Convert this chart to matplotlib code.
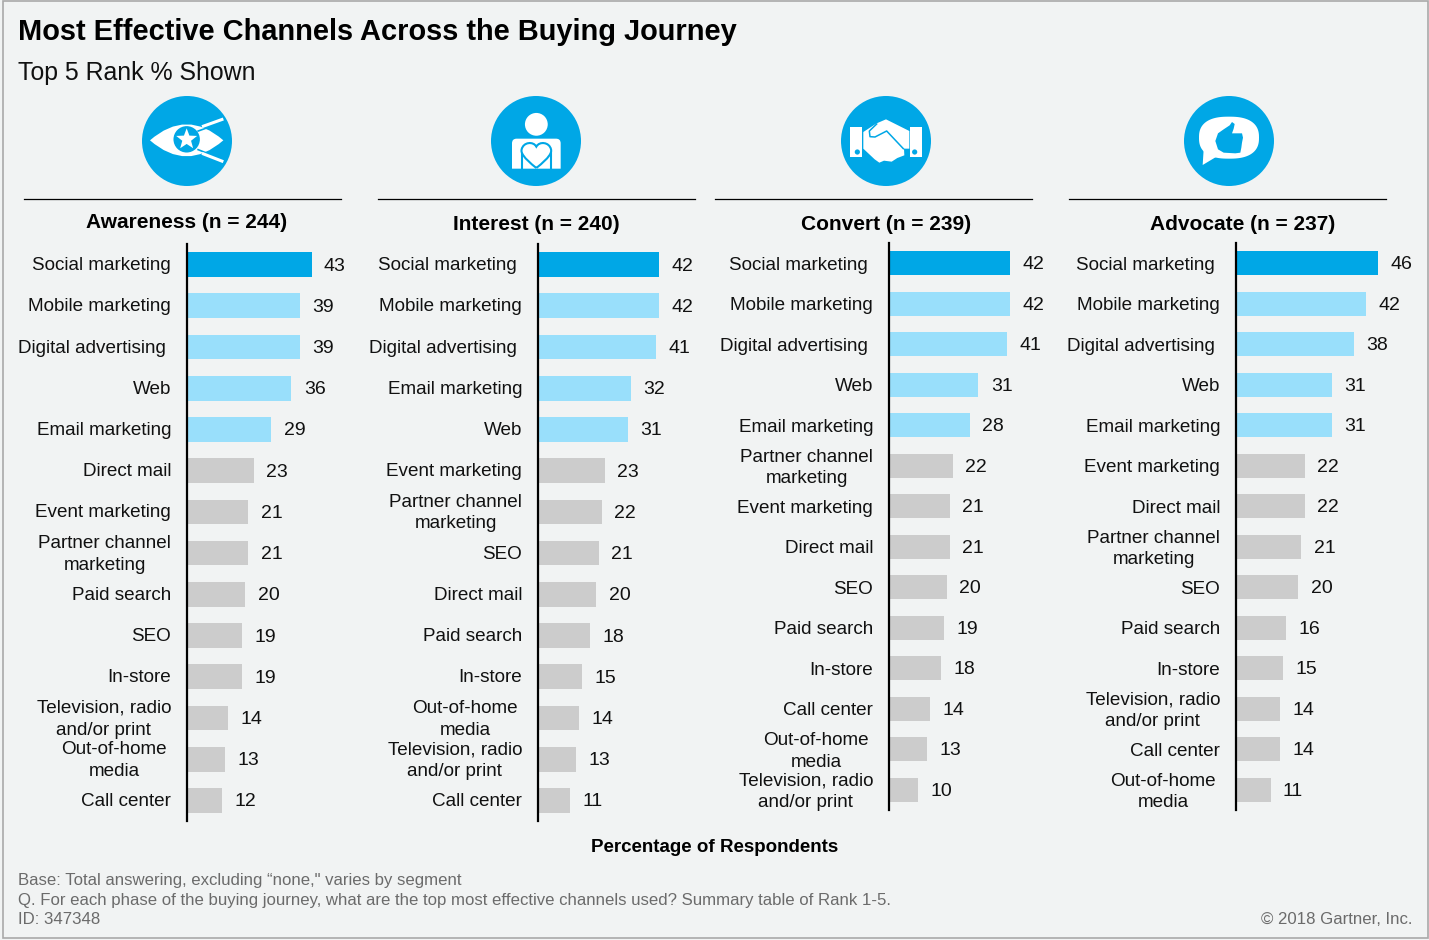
import matplotlib
matplotlib.use("Agg")
import matplotlib.pyplot as plt
from matplotlib.patches import Circle, Polygon, PathPatch, Rectangle
from matplotlib.path import Path
from matplotlib.transforms import ScaledTranslation
import numpy as np

plt.rcParams['font.family'] = ['Liberation Sans', 'DejaVu Sans']

PC = "Partner channel\nmarketing"
TV = "Television, radio\nand/or print"
OOH = "Out-of-home\nmedia"

awareness_labels = ["Social marketing", "Mobile marketing", "Digital advertising", "Web", "Email marketing",
                    "Direct mail", "Event marketing", PC, "Paid search", "SEO", "In-store", TV, OOH, "Call center"]
awareness_values = [43, 39, 39, 36, 29, 23, 21, 21, 20, 19, 19, 14, 13, 12]

interest_labels = ["Social marketing", "Mobile marketing", "Digital advertising", "Email marketing", "Web",
                   "Event marketing", PC, "SEO", "Direct mail", "Paid search", "In-store", OOH, TV, "Call center"]
interest_values = [42, 42, 41, 32, 31, 23, 22, 21, 20, 18, 15, 14, 13, 11]

convert_labels = ["Social marketing", "Mobile marketing", "Digital advertising", "Web", "Email marketing",
                  PC, "Event marketing", "Direct mail", "SEO", "Paid search", "In-store", "Call center", OOH, TV]
convert_values = [42, 42, 41, 31, 28, 22, 21, 21, 20, 19, 18, 14, 13, 10]

advocate_labels = ["Social marketing", "Mobile marketing", "Digital advertising", "Web", "Email marketing",
                   "Event marketing", "Direct mail", PC, "SEO", "Paid search", "In-store", TV, "Call center", OOH]
advocate_values = [46, 42, 38, 31, 31, 22, 22, 21, 20, 16, 15, 14, 14, 11]

titles = ["Awareness (n = 244)", "Interest (n = 240)", "Convert (n = 239)", "Advocate (n = 237)"]

W, H = 1429, 940
BG = "#F1F3F3"; BLUE = "#00A7E6"; LIGHT = "#99DFFB"; GRAY = "#CCCCCC"

fig = plt.figure(figsize=(W / 100, H / 100), dpi=100, facecolor=BG)

# overlay in pixel coordinates for decoration
ov = fig.add_axes([0, 0, 1, 1], zorder=5)
ov.set_xlim(0, W); ov.set_ylim(H, 0); ov.axis("off"); ov.patch.set_alpha(0)

ov.add_patch(Rectangle((3, 0.5), W - 4, 937, fill=False, ec="#A9A9A9", lw=1.2))

panels = [
    (awareness_labels, awareness_values, 187, 244, 821, 2.88, 187, 221, (24.5, 341.5), 1, 2),
    (interest_labels, interest_values, 538, 244, 821, 2.87, 536, 223, (378.5, 695.5), 1, 2),
    (convert_labels, convert_values, 889, 243, 810, 2.86, 886, 222, (715.5, 1032.5), 0, 2),
    (advocate_labels, advocate_values, 1236, 243, 810, 3.08, 1243, 223, (1069.5, 1386.5), 0, 2),
]

for idx, ((labels, values, x0, top, bot, scale, tx, ty, rule, up1, up2), title) in enumerate(zip(panels, titles)):
    width_px = 190
    ax = fig.add_axes([x0 / W, 1 - bot / H, width_px / W, (bot - top) / H])
    ax.patch.set_alpha(0)
    y = np.arange(len(values))
    colors = [BLUE] + [LIGHT] * 4 + [GRAY] * (len(values) - 5)
    bars = ax.barh(y, values, height=0.6, color=colors, left=0.75 / scale)
    ax.set_xlim(0, width_px / scale)
    ax.set_ylim(len(values) - 0.5, -0.5)
    ax.set_yticks(y, labels, fontsize=13.6, color="#111111", multialignment="center", linespacing=1.35)
    ax.tick_params(axis="y", length=0, pad=11.5)
    ax.set_xticks([])
    for s in ("top", "right", "bottom"):
        ax.spines[s].set_visible(False)
    ax.spines["left"].set_linewidth(1.6)
    for lab in ax.get_yticklabels():
        txt = lab.get_text()
        dx, dy = 0, up1
        if "\n" in txt:
            dy = up1 + up2 if idx < 2 else up2
        if txt == OOH:
            dx = -4
        if txt == "Digital advertising" or (txt == "Social marketing" and idx > 0):
            dx = -5
        lab.set_transform(lab.get_transform() + ScaledTranslation(dx / 100, dy / 100, fig.dpi_scale_trans))
    texts = ax.bar_label(bars, labels=[str(v) for v in values], padding=8.9, fontsize=14, color="#111111")
    for t in texts:
        t.xyann = (t.xyann[0], -1.1)
    ov.plot(rule, [199, 199], color="black", lw=0.9)
    ov.text(tx, ty + 2, title, ha="center", va="center", fontsize=15, fontweight="bold", color="black")

def zp(pts, ox, oy):
    return [(ox + a / 3, oy + b / 3) for a, b in pts]

for cx in (187, 536, 886, 1229):
    ov.add_patch(Circle((cx, 141), 45, fc=BLUE, ec="none"))

def star(cx, cy, r):
    a = np.pi / 2 + np.arange(10) * np.pi / 5
    rr = np.where(np.arange(10) % 2 == 0, r, r * 0.42)
    return np.c_[cx + rr * np.cos(a), cy - rr * np.sin(a)]

# eye
EX, EY = 140, 96
ov.add_patch(PathPatch(Path(zp([(30, 133), (140, 37), (250, 133), (140, 229), (30, 133)], EX, EY),
                            [Path.MOVETO, Path.CURVE3, Path.CURVE3, Path.CURVE3, Path.CURVE3]), fc="white", ec="none"))
ov.add_patch(Circle((EX + 140 / 3, EY + 130 / 3), 13.2, fc=BLUE, ec="none"))
ov.add_patch(Polygon(star(EX + 140 / 3, EY + 130 / 3, 11), fc="white", ec="none"))
ov.plot(*zip(*zp([(172, 106), (222, 88)], EX, EY)), color=BLUE, lw=1.2, solid_capstyle="butt")
ov.plot(*zip(*zp([(172, 160), (222, 180)], EX, EY)), color=BLUE, lw=1.2, solid_capstyle="butt")
ov.plot(*zip(*zp([(186, 92), (250, 69)], EX, EY)), color="white", lw=2.2, solid_capstyle="butt")
ov.plot(*zip(*zp([(186, 172), (250, 197)], EX, EY)), color="white", lw=2.2, solid_capstyle="butt")

# person with heart
PX, PY = 490, 96
ov.add_patch(Circle((PX + 139 / 3, PY + 85 / 3), 11.4, fc="white", ec="none"))
body = zp([(66, 218), (66, 142), (66, 128), (80, 128), (198, 128), (212, 128), (212, 142), (212, 218), (66, 218)], PX, PY)
ov.add_patch(PathPatch(Path(body, [Path.MOVETO, Path.LINETO, Path.CURVE3, Path.CURVE3, Path.LINETO, Path.CURVE3, Path.CURVE3,
                                   Path.LINETO, Path.CLOSEPOLY]), fc="white", ec="none"))
ov.plot(*zip(*zp([(95, 168), (95, 218)], PX, PY)), color=BLUE, lw=1.5, solid_capstyle="butt")
ov.plot(*zip(*zp([(183, 168), (183, 218)], PX, PY)), color=BLUE, lw=1.5, solid_capstyle="butt")
heart = zp([(139, 216), (100, 185), (92, 170), (95, 160), (100, 138), (130, 135), (139, 152),
            (148, 135), (178, 138), (183, 160), (186, 170), (178, 185), (139, 216)], PX, PY)
ov.add_patch(PathPatch(Path(heart, [Path.MOVETO] + [Path.CURVE4] * 12), fc="white", ec=BLUE, lw=1.5, zorder=3))

# handshake
HX, HY = 840, 96
ov.add_patch(Polygon(zp([(30, 93), (66, 93), (66, 182), (30, 182)], HX, HY), fc="white", ec="none"))
ov.add_patch(Polygon(zp([(210, 93), (246, 93), (246, 182), (210, 182)], HX, HY), fc="white", ec="none"))
ov.add_patch(Circle((HX + 52 / 3, HY + 168 / 3), 2.6, fc=BLUE, ec="none"))
ov.add_patch(Circle((HX + 224 / 3, HY + 168 / 3), 2.6, fc=BLUE, ec="none"))
ov.add_patch(Polygon(zp([(70, 158), (70, 108), (110, 82), (138, 70), (208, 105), (208, 158), (192, 158), (193, 178),
                         (172, 186), (155, 197), (132, 194), (118, 200), (104, 190)], HX, HY), fc="white", ec="none"))
ov.plot(*zip(*zp([(110, 84), (88, 105), (90, 122), (105, 123), (140, 105), (190, 158)], HX, HY)), color=BLUE, lw=1.1)

# thumbs-up speech bubble
TX, TY = 1182, 96
t = np.linspace(0, 2 * np.pi, 120)
bx = 141 + 90 * np.sign(np.cos(t)) * np.abs(np.cos(t)) ** (2 / 2.5)
by = 125 + 63 * np.sign(np.sin(t)) * np.abs(np.sin(t)) ** (2 / 2.5)
ov.add_patch(Polygon(zp(list(zip(bx, by)), TX, TY), fc="white", ec="none"))
ov.add_patch(Polygon(zp([(65, 160), (62, 207), (102, 183)], TX, TY), fc="white", ec="none"))
ov.add_patch(Polygon(zp([(100, 135), (108, 112), (125, 100), (143, 88), (150, 78), (158, 84), (155, 98), (150, 112),
                         (180, 112), (183, 125), (180, 140), (178, 155), (175, 170), (160, 172), (125, 170), (108, 160)],
                        TX, TY), fc=BLUE, ec="none"))

# ---- text ----
ov.text(18, 32, "Most Effective Channels Across the Buying Journey", fontsize=20.93, fontweight="bold", va="center", color="black")
ov.text(18, 73, "Top 5 Rank % Shown", fontsize=17.9, va="center", color="#111111")
ov.text(715, 848, "Percentage of Respondents", fontsize=13.5, fontweight="bold", ha="center", va="center", color="black")
ov.text(18, 881, "Base: Total answering, excluding \u201cnone,\" varies by segment", fontsize=12.08, va="center", color="#6B6B6B")
ov.text(18, 901, "Q. For each phase of the buying journey, what are the top most effective channels used? Summary table of Rank 1-5.",
        fontsize=12.08, va="center", color="#6B6B6B")
ov.text(18, 920, "ID: 347348", fontsize=12.08, va="center", color="#6B6B6B")
ov.text(1413, 920, "\u00a9 2018 Gartner, Inc.", fontsize=12.08, va="center", ha="right", color="#6B6B6B")

fig.savefig("out.png", dpi=100, facecolor=BG)
